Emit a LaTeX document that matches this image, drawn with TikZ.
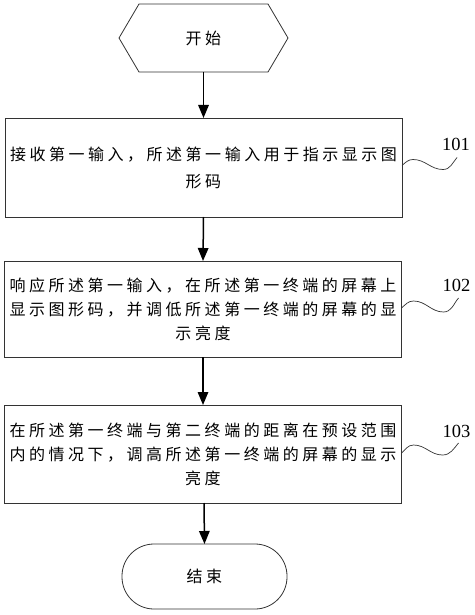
\documentclass[tikz,border=0pt]{standalone}
\usepackage{fontspec}
\newfontfamily\cjk[LetterSpace=22]{Noto Sans CJK SC}
\newfontfamily\labfont{Liberation Serif}
\usetikzlibrary{arrows.meta}
\begin{document}
\begin{tikzpicture}[x=1pt,y=1pt,
  stepbox/.style={draw=black!80,line width=0.8pt,minimum width=397pt,align=center,
     inner sep=0pt,outer sep=0pt,font=\cjk\fontsize{16pt}{24pt}\selectfont},
  arr/.style={line width=1.5pt,-{Triangle[length=13pt,width=10.5pt]}},
  wave/.style={line width=0.7pt,black!80},
  lab/.style={font=\labfont\fontsize{18.5pt}{20pt}\selectfont,inner sep=0pt}]
\useasboundingbox (0,0) rectangle (474,-615);
% start
\node[minimum width=169pt,minimum height=68pt,inner sep=0pt,outer sep=0pt,
      font=\cjk\fontsize{16pt}{20pt}\selectfont] (start) at (203.5,-38) {开始};
\draw[black!80,line width=0.8pt] ([xshift=20pt]start.north west) -- ([xshift=-20pt]start.north east)
  -- (start.east) -- ([xshift=-20pt]start.south east) -- ([xshift=20pt]start.south west)
  -- (start.west) -- cycle;
% boxes
\node[stepbox,minimum height=99pt,font=\cjk\fontsize{16pt}{27pt}\selectfont] (b1) at (203.5,-167.5)
  {接收第一输入，所述第一输入用于指示显示图\\形码};
\node[stepbox,minimum height=96pt] (b2) at (203,-309)
  {响应所述第一输入，在所述第一终端的屏幕上\\显示图形码，并调低所述第一终端的屏幕的显\\示亮度};
\node[stepbox,minimum height=98pt] (b3) at (203,-454)
  {在所述第一终端与第二终端的距离在预设范围\\内的情况下，调高所述第一终端的屏幕的显示\\亮度};
% end
\node[draw=black!80,line width=0.8pt,rounded corners=32pt,minimum width=165pt,minimum height=65pt,
      inner sep=0pt,outer sep=0pt,font=\cjk\fontsize{16pt}{20pt}\selectfont] (end) at (204.5,-576.5) {结束};
% arrows
\draw[arr] (start.south) -- (b1.north);
\draw[arr] (b1.south) -- (b2.north);
\draw[arr] (b2.south) -- (b3.north);
\draw[arr] ([xshift=1pt]b3.south) -- (end.north);
% wavy label connectors
\draw[wave] ([yshift=2pt]b1.east) to[out=40,in=180] ++(11,6) to[out=0,in=180] ++(30,-10)
  to[out=0,in=230] ++(14,12) coordinate (w1);
\node[lab] (l1) at ([shift={(-1,13)}]w1) {101};
\draw[wave] ([yshift=1pt]b2.east) to[out=40,in=180] ++(12,7) to[out=0,in=180] ++(30,-11)
  to[out=0,in=230] ++(15,14) coordinate (w2);
\node[lab] (l2) at ([shift={(-2,13)}]w2) {102};
\draw[wave] ([yshift=1pt]b3.east) to[out=40,in=180] ++(12,8) to[out=0,in=180] ++(29,-10)
  to[out=0,in=230] ++(16,12) coordinate (w3);
\node[lab] (l3) at ([shift={(-2,12)}]w3) {103};
\end{tikzpicture}
\end{document}
